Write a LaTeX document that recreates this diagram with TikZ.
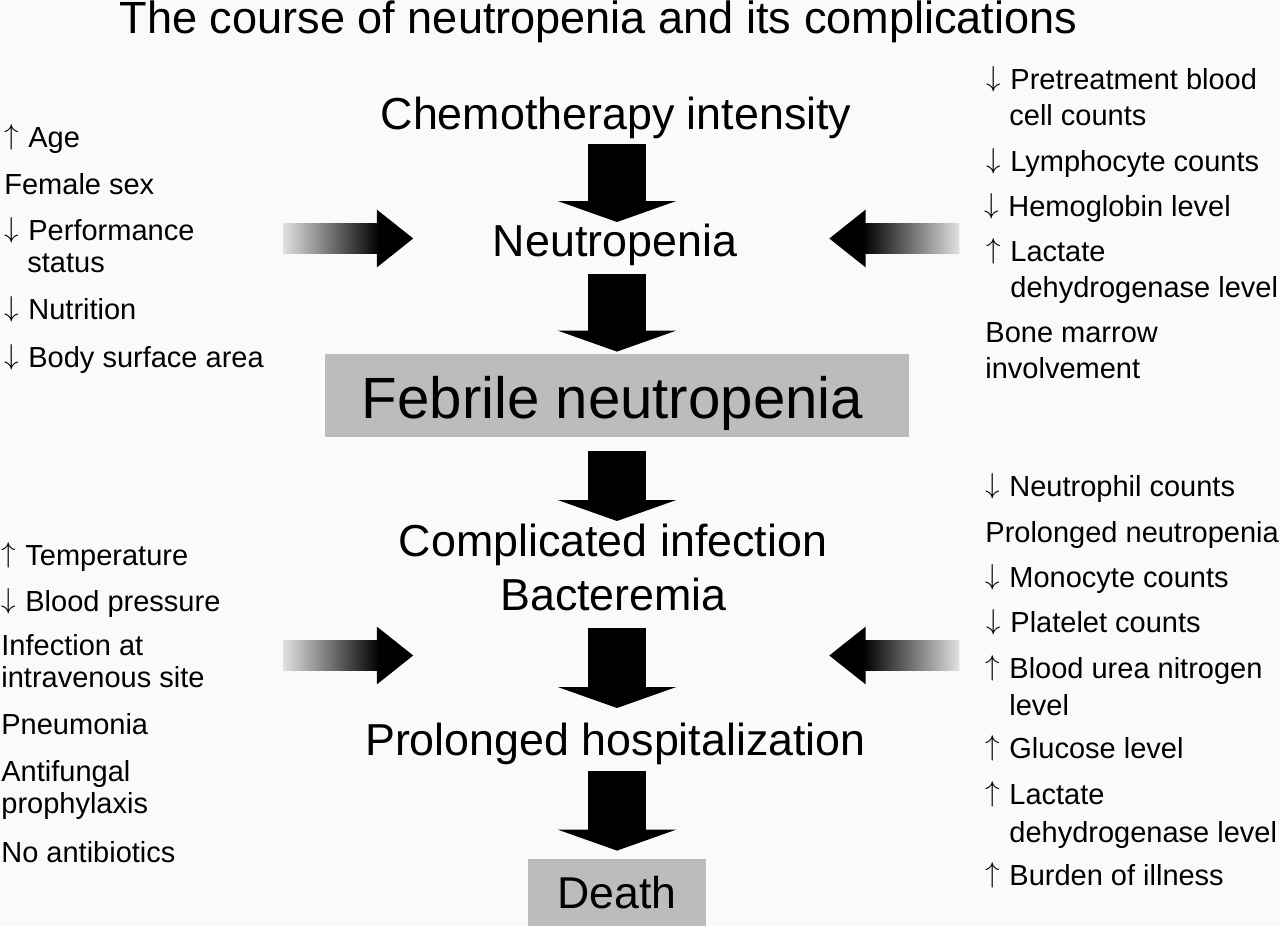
\documentclass[tikz,border=0pt]{standalone}
\usepackage{fontspec}
\setmainfont{Liberation Sans}
\usetikzlibrary{arrows.meta,shapes.arrows}

\definecolor{paper}{HTML}{FAFAFA}
\definecolor{boxgray}{HTML}{BCBCBC}
\pgfdeclarehorizontalshading{fadeout}{100bp}{color(0bp)=(paper); color(25bp)=(paper!90!black); color(62bp)=(black); color(100bp)=(black)}
\pgfdeclarehorizontalshading{fadein}{100bp}{color(0bp)=(black); color(38bp)=(black); color(75bp)=(paper!90!black); color(100bp)=(paper)}

\newcommand{\upmark}{\makebox[12pt][l]{\raisebox{1.4pt}{$\uparrow$}}}
\newcommand{\downmark}{\makebox[12pt][l]{\raisebox{1.4pt}{$\downarrow$}}}

\tikzset{
  bigtext/.style={anchor=base, inner sep=0pt, font=\fontsize{22.4}{26}\selectfont},
  graybox/.style={fill=boxgray, inner sep=0pt},
  blockarrow/.style={line width=29pt, -{Triangle[length=10.5pt, width=59pt]}},
  sidearrow/.style={single arrow, inner sep=0pt, text height=15pt, text depth=0pt, minimum height=65pt, minimum width=28.5pt,
    single arrow head extend=6.75pt, single arrow tip angle=77, single arrow head indent=0pt},
}

\begin{document}
\begin{tikzpicture}[x=.5pt, y=-.5pt]

      \fill[paper] (0,0) rectangle (1280,926);
      \useasboundingbox (0,0) rectangle (1280,926);
      \coordinate (axis) at (617,0);

      \node[anchor=base, inner sep=0pt, font=\fontsize{22.55}{26}\selectfont] (title) at (598.5,33) {The course of neutropenia and its complications};

      \begin{scope}[every node/.style={bigtext}]
        \node (chemo)      at (616,129)   {Chemotherapy intensity};
        \node (neutro)     at (615,256)   {Neutropenia};
        \node (infection)  at (613,556)   {Complicated infection};
        \node (bacteremia) at (613.5,610) {Bacteremia};
        \node (hospital)   at (615.5,755) {Prolonged hospitalization};
      \end{scope}

      \node[graybox, minimum width=292pt, minimum height=41.5pt, text height=24pt, text depth=1.5pt,
        font=\fontsize{29.1}{34}\selectfont] (febrile) at (617,395.5) {Febrile neutropenia\hspace*{4.5pt}};
      \node[graybox, minimum width=89pt, minimum height=33.5pt, text height=18pt, text depth=2.5pt,
        font=\fontsize{22.3}{26}\selectfont] (death) at (617,892.5) {Death};

      \draw[blockarrow, shorten <=7.5pt, shorten >=17pt] (chemo.base -| axis) -- (neutro.base -| axis);
      \draw[blockarrow, shorten <=9pt, shorten >=1pt] (neutro.base -| axis) -- (febrile.north);
      \draw[blockarrow, shorten <=7pt, shorten >=17.5pt] (febrile.south) -- (infection.base -| axis);
      \draw[blockarrow, shorten <=9pt, shorten >=23.5pt] (bacteremia.base -| axis) -- (hospital.base -| axis);
      \draw[blockarrow, shorten <=8pt, shorten >=4pt] (hospital.base -| axis) -- (death.north);

      \node[sidearrow, shade, shading=fadeout] (leftupper) at (338.5,238.5) {};
      \node[sidearrow, shade, shading=fadeout] (leftlower) at (338.5,655.5) {};
      \node[sidearrow, shade, shading=fadein, shape border rotate=180] (rightupper) at (904,238.5) {};
      \node[sidearrow, shade, shading=fadein, shape border rotate=180] (rightlower) at (904,655.5) {};

      \begin{scope}[every node/.style={anchor=base west, inner sep=0pt, yshift=-.5pt, font=\fontsize{14.5}{17}\selectfont}]
        % upper left
        \node (age)      at (4,146)  {\upmark Age};
        \node (sex)      at (4,193)  {Female sex};
        \node (perform)  at (4,239)  {\downmark Performance};
        \node (status)   at (27,271) {status};
        \node (nutrition) at (4,318) {\downmark Nutrition};
        \node (surface)  at (4,366)  {\downmark Body surface area};
        % lower left
        \node (temp)     at (1,564)  {\upmark Temperature};
        \node (pressure) at (1,610)  {\downmark Blood pressure};
        \node (site)     at (1,654)  {Infection at};
        \node (venous)   at (1,686)  {intravenous site};
        \node (pneumonia) at (1,733) {Pneumonia};
        \node (fungal)   at (1,780)  {Antifungal};
        \node (prophyl)  at (1,812)  {prophylaxis};
        \node (antibio)  at (1,861)  {No antibiotics};
        % upper right
        \node (pretreat) at (986,88)  {\downmark Pretreatment blood};
        \node (cell)     at (1009,124) {cell counts};
        \node (lympho)   at (986,170) {\downmark Lymphocyte counts};
        \node (hemo)     at (984,215) {\downmark Hemoglobin level};
        \node (lactate)  at (986,260) {\upmark Lactate};
        \node (dehydro)  at (1010,296) {dehydrogenase level};
        \node (marrow)   at (985,341) {Bone marrow};
        \node (involve)  at (985,377) {involvement};
        % lower right
        \node (neutrophil) at (985,495) {\downmark Neutrophil counts};
        \node (prolonged)  at (985,541) {Prolonged neutropenia};
        \node (monocyte)   at (985,586) {\downmark Monocyte counts};
        \node (platelet)   at (986,631) {\downmark Platelet counts};
        \node (urea)       at (985,677) {\upmark Blood urea nitrogen};
        \node (level)      at (1009,714) {level};
        \node (glucose)    at (985,757) {\upmark Glucose level};
        \node (lactateb)   at (985,803) {\upmark Lactate};
        \node (dehydrob)   at (1009,841) {dehydrogenase level};
        \node (burden)     at (985,884) {\upmark Burden of illness};
      \end{scope}

    \end{tikzpicture}
\end{document}
